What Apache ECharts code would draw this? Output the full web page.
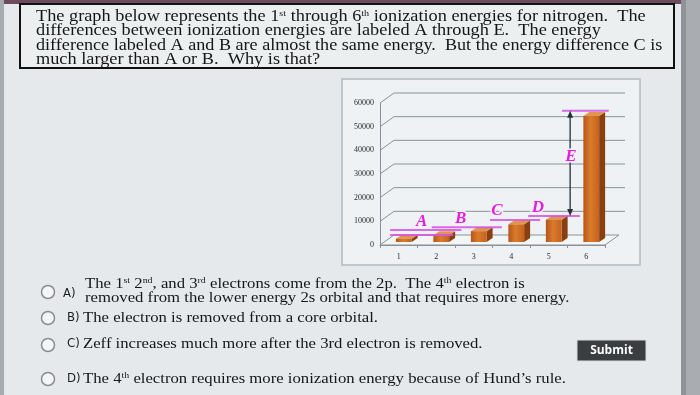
<!DOCTYPE html>
<html><head><meta charset="utf-8">
<script src="https://cdn.jsdelivr.net/npm/echarts@6/dist/echarts.min.js"></script>
<style>html,body{margin:0;padding:0;background:#e5e9ec}#c{width:700px;height:395px}</style>
</head><body><div id="c"></div>
<script>
// ---- data ----
const categories = ['1', '2', '3', '4', '5', '6'];
const ionizationEnergies = [1402, 2856, 4578, 7475, 9445, 53266];
const yTicks = [0, 10000, 20000, 30000, 40000, 50000, 60000];
// energy-level marker lines: [xStart, xEnd, level] (x in category units 0..6)
const levelLines = [[0.27, 2.17, 6340], [0.27, 1.95, 4230], [1.38, 3.25, 7480], [2.93, 4.27, 10560], [3.95, 5.33, 12250], [4.85, 6.1, 56750]];
const diffLabels = ['A', 'B', 'C', 'D', 'E'];
const diffLabelPos = [[1.11, 9850], [2.15, 11280], [3.12, 14580], [4.21, 15630], [5.09, 37180]];
const arrowE = [[5.07, 12250, 56750]];

// ---- style constants ----
const DEPTH = [14, -10], BAR_OFF = [5, -3], BAR_DEPTH = [6, -4];
const GRID_COLOR = '#8b9196';
const SERIF = '"Liberation Serif", "DejaVu Serif", serif';
const COND = '"DejaVu Sans Condensed", "Liberation Sans", sans-serif';

const chart = echarts.init(document.getElementById('c'), null, {renderer: 'canvas'});

function renderGrid(params, api) {
  const v = api.value(1);
  const a = api.coord([0, v]), e = api.coord([6, v]);
  if (v === 0) {
    return {type: 'polygon', shape: {points: [[a[0], a[1]], [a[0] + DEPTH[0], a[1] + DEPTH[1]], [e[0] + DEPTH[0], e[1] + DEPTH[1]], [e[0], e[1]]]},
      style: {fill: 'rgba(255,255,255,0.3)', stroke: GRID_COLOR, lineWidth: 1}};
  }
  return {type: 'polyline', shape: {points: [[a[0], a[1]], [a[0] + DEPTH[0], a[1] + DEPTH[1]], [e[0] + DEPTH[0] + 6, e[1] + DEPTH[1]]]},
    style: {stroke: GRID_COLOR, lineWidth: 1, fill: null}};
}

function renderBar(params, api) {
  const c = api.coord([api.value(0), api.value(1)]);
  const b = api.coord([api.value(0), 0]);
  const w = api.size([1, 0])[0] * 0.42;
  const x0 = c[0] - w / 2 + BAR_OFF[0], x1 = x0 + w;
  const yt = c[1] + BAR_OFF[1], yb = b[1] + BAR_OFF[1];
  const dx = BAR_DEPTH[0], dy = BAR_DEPTH[1];
  return {type: 'group', children: [
    {type: 'polygon', shape: {points: [[x1, yb], [x1 + dx, yb + dy], [x1 + dx, yt + dy], [x1, yt]]}, style: {fill: '#8a3f10'}},
    {type: 'polygon', shape: {points: [[x0, yt], [x0 + dx, yt + dy], [x1 + dx, yt + dy], [x1, yt]]}, style: {fill: '#e39550'}},
    {type: 'rect', shape: {x: x0, y: yt, width: w, height: yb - yt},
      style: {fill: new echarts.graphic.LinearGradient(0, 0, 1, 0, [{offset: 0, color: '#b5551a'}, {offset: 0.45, color: '#da7b2c'}, {offset: 1, color: '#c4621e'}])}}
  ]};
}

function renderLevel(params, api) {
  const a = api.coord([api.value(0), api.value(2)]), b = api.coord([api.value(1), api.value(2)]);
  return {type: 'line', shape: {x1: a[0], y1: a[1], x2: b[0], y2: b[1]}, style: {stroke: '#d552e0', lineWidth: 2, opacity: 0.85}};
}

function renderLabel(params, api) {
  const p = api.coord([api.value(0), api.value(1)]);
  return {type: 'text', x: p[0], y: p[1], style: {text: diffLabels[params.dataIndex], font: 'italic bold 17px ' + SERIF,
    fill: '#e01fe0', stroke: '#f6f0f8', lineWidth: 3, align: 'center', verticalAlign: 'middle'}};
}

function renderArrow(params, api) {
  const lo = api.coord([api.value(0), api.value(1)]), hi = api.coord([api.value(0), api.value(2)]);
  const x = lo[0], col = '#27313c';
  return {type: 'group', children: [
    {type: 'line', shape: {x1: x, y1: hi[1] + 3, x2: x, y2: lo[1] - 3}, style: {stroke: col, lineWidth: 1.3}},
    {type: 'polygon', shape: {points: [[x, hi[1]], [x - 3, hi[1] + 7], [x + 3, hi[1] + 7]]}, style: {fill: col}},
    {type: 'polygon', shape: {points: [[x, lo[1]], [x - 3, lo[1] - 7], [x + 3, lo[1] - 7]]}, style: {fill: col}}
  ]};
}

// ---- page texts ----
function supStyle(size) {
  return {s: {fontSize: Math.round(size * 0.58), lineHeight: Math.round(size * 0.6), verticalAlign: 'top', fontFamily: SERIF, fill: '#161616'}};
}
function line(x, y, text, size, sx) {
  return {type: 'text', x: x, y: y, scaleX: sx, z: 20, style: {text: text, font: size + 'px ' + SERIF, fill: '#161616',
    verticalAlign: 'middle', lineHeight: Math.round(size), rich: supStyle(size)}};
}
function tag(x, y, text) {
  return {type: 'text', x: x, y: y, z: 20, style: {text: text, font: '13px ' + COND, fill: '#1e1e1e', verticalAlign: 'middle'}};
}
function radio(cx, cy) {
  return {type: 'circle', z: 20, shape: {cx: cx, cy: cy, r: 6.5}, style: {fill: '#f4f5f6', stroke: '#8a8d90', lineWidth: 1.5}};
}

const Q = 16.2, QS = 1.13, O = 15.2, OS = 1.1;
const graphics = [
  {type: 'rect', z: -10, shape: {x: 0, y: 0, width: 700, height: 395}, style: {fill: '#e5e9ec'}},
  {type: 'rect', z: -9, shape: {x: 0, y: 0, width: 700, height: 4}, style: {fill: '#6e4a5e'}},
  {type: 'rect', z: -9, shape: {x: 0, y: 0, width: 4, height: 395}, style: {fill: '#a6abaf'}},
  {type: 'rect', z: -9, shape: {x: 681, y: 0, width: 19, height: 395}, style: {fill: '#a9adb1'}},
  {type: 'rect', z: -9, shape: {x: 681, y: 0, width: 5, height: 395}, style: {fill: '#8f9397'}},
  {type: 'rect', z: -8, shape: {x: 20, y: 4, width: 654, height: 64}, style: {fill: '#eceff0', stroke: '#111', lineWidth: 2}},
  {type: 'rect', z: -8, shape: {x: 342, y: 79, width: 298, height: 186}, style: {fill: '#eef2f4', stroke: '#b4b9bd', lineWidth: 1.5}},
  line(36, 17, 'The graph below represents the 1{s|st} through 6{s|th} ionization energies for nitrogen.  The', Q, QS),
  line(36, 31, 'differences between ionization energies are labeled A through E.  The energy', Q, QS),
  line(36, 46, 'difference labeled A and B are almost the same energy.  But the energy difference C is', Q, 1.12),
  line(36, 60, 'much larger than A or B.  Why is that?', Q, QS),
  radio(48, 292), tag(63, 294, 'A)'),
  line(85, 284, 'The 1{s|st} 2{s|nd}, and 3{s|rd} electrons come from the 2p.  The 4{s|th} electron is', O, OS),
  line(85, 298, 'removed from the lower energy 2s orbital and that requires more energy.', O, OS),
  radio(48, 318), tag(67, 318, 'B)'), line(83, 318, 'The electron is removed from a core orbital.', O, OS),
  radio(48, 345), tag(67, 344, 'C)'), line(83, 344, 'Zeff increases much more after the 3rd electron is removed.', O, OS),
  radio(48, 379), tag(67, 379, 'D)'), line(83, 379, 'The 4{s|th} electron requires more ionization energy because of Hund\u2019s rule.', O, OS),
  {type: 'rect', z: 20, shape: {x: 577, y: 340, width: 69, height: 21}, style: {fill: '#3b3e41', stroke: '#d9dbdd', lineWidth: 1}},
  {type: 'text', z: 21, x: 611.5, y: 350.5, style: {text: 'Submit', font: 'bold 12px "Open Sans", sans-serif', fill: '#ffffff', align: 'center', verticalAlign: 'middle'}}
];

chart.setOption({
  animation: false,
  graphic: graphics,
  grid: {left: 380, top: 103, width: 225, height: 142},
  xAxis: [
    {type: 'category', data: categories, axisLine: {lineStyle: {color: GRID_COLOR}},
      axisTick: {show: true, length: 3, lineStyle: {color: GRID_COLOR}},
      axisLabel: {fontSize: 8, fontFamily: SERIF, color: '#2a2a2a', margin: 8}, splitLine: {show: false}},
    {type: 'value', min: 0, max: 6, show: false}
  ],
  yAxis: {type: 'value', min: 0, max: 60000, interval: 10000,
    axisLine: {show: true, lineStyle: {color: GRID_COLOR}}, axisTick: {show: false}, splitLine: {show: false},
    axisLabel: {fontSize: 8, fontFamily: SERIF, color: '#2a2a2a', margin: 6, formatter: v => String(v)}},
  series: [
    {type: 'custom', name: 'grid', xAxisIndex: 1, z: 1, data: yTicks.map(v => [0, v]), encode: {x: 0, y: 1}, renderItem: renderGrid, silent: true},
    {type: 'custom', name: 'Ionization energy', xAxisIndex: 0, z: 3, data: ionizationEnergies.map((v, i) => [i, v]), encode: {x: 0, y: 1}, renderItem: renderBar},
    {type: 'custom', name: 'levels', xAxisIndex: 1, z: 4, data: levelLines, encode: {x: [0, 1], y: 2}, renderItem: renderLevel},
    {type: 'custom', name: 'arrow', xAxisIndex: 1, z: 5, data: arrowE, encode: {x: 0, y: [1, 2]}, renderItem: renderArrow},
    {type: 'custom', name: 'labels', xAxisIndex: 1, z: 6, data: diffLabelPos, encode: {x: 0, y: 1}, renderItem: renderLabel}
  ]
});
</script></body></html>
